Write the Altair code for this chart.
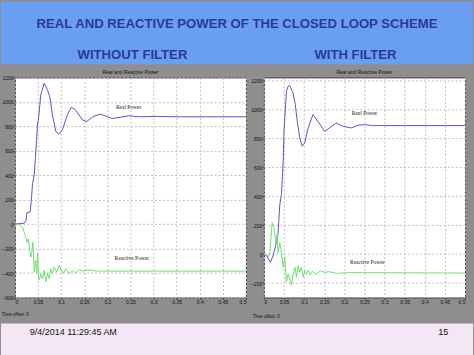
import altair as alt
import pandas as pd

# ---------------- data ----------------
# WITHOUT FILTER
t_real_nf = [0, 0.01, 0.02, 0.024, 0.026, 0.033, 0.036, 0.038, 0.042, 0.0453, 0.049, 0.051, 0.056,
             0.0632, 0.0704, 0.076, 0.081, 0.0884, 0.0956, 0.1028, 0.1135, 0.122, 0.131, 0.146,
             0.155, 0.1695, 0.184, 0.1925, 0.21, 0.228, 0.246, 0.27, 0.307, 0.35, 0.5]
p_real_nf = [0, 5, 8, 30, 95, 100, 220, 330, 410, 598, 828, 860, 1059,
             1153, 1100, 1032, 894, 758, 736, 772, 894, 956, 935, 853,
             839, 880, 899, 890, 864, 874, 886, 878, 881, 878, 878]

t_react_nf = [0, 0.0093, 0.0165, 0.02, 0.0237, 0.026, 0.0287, 0.0316, 0.0345, 0.0366, 0.0388,
              0.04, 0.0417, 0.0445, 0.0474, 0.049, 0.051, 0.053, 0.056, 0.0596, 0.063, 0.0668,
              0.0704, 0.074, 0.0776, 0.081, 0.0848, 0.0905, 0.0955, 0.1006, 0.105, 0.11, 0.117,
              0.124, 0.1315, 0.1386, 0.1458, 0.1566, 0.178, 0.5]
q_react_nf = [0, -5, -26, -67, -107, -148, -121, -202, -270, -229, -148,
              -243, -392, -297, -400, -237, -432, -459, -405, -446, -378, -473,
              -405, -446, -365, -405, -351, -392, -338, -378, -405, -365, -405,
              -378, -400, -373, -384, -373, -384, -384]

# WITH FILTER
t_real_f = [0, 0.0066, 0.016, 0.023, 0.029, 0.035, 0.0396, 0.0437, 0.048, 0.05, 0.056, 0.06,
            0.064, 0.0726, 0.078, 0.083, 0.089, 0.095, 0.1015, 0.11, 0.122, 0.134, 0.151,
            0.163, 0.18, 0.196, 0.217, 0.234, 0.25, 0.27, 0.295, 0.5]
p_real_f = [0, -11, -57, -11, 57, 138, 344, 413, 642, 849, 1124, 1159,
            1166, 1113, 1033, 918, 803, 746, 769, 872, 964, 918, 849,
            872, 906, 884, 872, 890, 895, 888, 888, 888]

t_react_f = [0, 0.0066, 0.0107, 0.0149, 0.0206, 0.0248, 0.03, 0.033, 0.035, 0.0396, 0.0437,
             0.048, 0.052, 0.056, 0.06, 0.064, 0.0686, 0.0727, 0.077, 0.081, 0.085, 0.089,
             0.093, 0.098, 0.1015, 0.106, 0.11, 0.115, 0.12, 0.13, 0.14, 0.151, 0.163, 0.18,
             0.213, 0.5]
q_react_f = [0, -5, -20, 11, 218, 183, 80, 138, 11, 80, 10,
             -91, -22, -195, -137, -172, -217, -137, -91, -160, -80, -126,
             -91, -160, -114, -140, -110, -145, -120, -138, -115, -126, -122, -133,
             -128, -131]

x_ticks = [0, 0.05, 0.1, 0.15, 0.2, 0.25, 0.3, 0.35, 0.4, 0.45, 0.5]
y_ticks_nf = [-600, -400, -200, 0, 200, 400, 600, 800, 1000, 1200]
y_ticks_f = [-200, 0, 200, 400, 600, 800, 1000, 1200]

labels_nf = ["Real Power", "Reactive Power"]
label_t_nf = [0.246, 0.253]
label_v_nf = [956, -275]
labels_f = ["Real Power", "Reactive Power"]
label_t_f = [0.25, 0.257]
label_v_f = [975, -57]

main_title = "REAL AND REACTIVE POWER OF THE CLOSED LOOP SCHEME"
sub_titles = ["WITHOUT FILTER", "WITH FILTER"]
panel_title = "Real and Reactive Power"
footer_date = "9/4/2014 11:29:45 AM"
footer_page = "15"
offset_text = "Time offset:  0"

# ---------------- styling ----------------
BLUE_BG = "#6a9ef0"
TITLE_COL = "#2b3a98"
GRAY = "#8e8e8e"
PINK = "#f4e6f5"
REAL_COL = "#5656c8"
REACT_COL = "#72de72"
SANS = "Liberation Sans"

one = pd.DataFrame({"k": [0]})


def axis_x():
    return alt.Axis(values=x_ticks, format="~g", labelFontSize=5, labelColor="#111",
                    tickSize=1.5, tickColor="#333", grid=True, gridColor="#bdbdbd",
                    gridDash=[2, 2], domain=False, title=None, labelPadding=0.5,
                    labelFont=SANS, labelOverlap=False, labelSeparation=0, minExtent=0)


def axis_y(vals):
    return alt.Axis(values=vals, format="d", labelFontSize=5, labelColor="#111",
                    tickSize=1.5, tickColor="#333", grid=True, gridColor="#bdbdbd",
                    gridDash=[2, 2], domain=False, title=None, labelPadding=0.5,
                    labelFont=SANS, labelOverlap=False, labelSeparation=0, minExtent=0)


def panel(t_r, p_r, t_q, q_q, ydom, yvals, lab, lab_t, lab_v):
    real = pd.DataFrame({"t": t_r, "v": p_r})
    react = pd.DataFrame({"t": t_q, "v": q_q})
    labs = pd.DataFrame({"t": lab_t, "v": lab_v, "label": lab})
    xs = alt.Scale(domain=[0, 0.5], nice=False)
    ys = alt.Scale(domain=ydom, nice=False, zero=False)
    X = alt.X("t:Q", scale=xs, axis=axis_x())
    Y = alt.Y("v:Q", scale=ys, axis=axis_y(yvals))
    l_real = alt.Chart(real).mark_line(color=REAL_COL, strokeWidth=1).encode(x=X, y=Y)
    l_react = alt.Chart(react).mark_line(color=REACT_COL, strokeWidth=1).encode(x=X, y=Y)
    txt = alt.Chart(labs).mark_text(font="Liberation Serif", fontSize=5.5, color="#222",
                                    align="center").encode(x=X, y=Y, text="label:N")
    return l_real, l_react, txt


def label(text, x, y, size, color="#111", weight="normal", align="center"):
    return alt.Chart(one).mark_text(text=text, font=SANS, fontSize=size, fontWeight=weight,
                                    color=color, align=align, baseline="middle").encode(
        x=alt.value(x), y=alt.value(y))


# decorations (positioned relative to the left plot's origin)
banner = alt.Chart(one).mark_rect(color=BLUE_BG).encode(
    x=alt.value(-14), x2=alt.value(460), y=alt.value(-76), y2=alt.value(-13))
footer = alt.Chart(one).mark_rect(color=PINK).encode(
    x=alt.value(-14), x2=alt.value(460), y=alt.value(247), y2=alt.value(279))
t_main = label(main_title, 223, -54, 13.2, TITLE_COL, "bold")
t_sub1 = label(sub_titles[0], 118, -23, 13.2, TITLE_COL, "bold")
t_sub2 = label(sub_titles[1], 342, -23, 13.2, TITLE_COL, "bold")
t_date = label(footer_date, 15, 256, 9, align="left")
t_page = label(footer_page, 430, 256, 9)
t_off1 = label(offset_text, -13, 239, 4.5, align="left")
t_off2 = label(offset_text, 239, 241, 4.5, align="left")
t_ptl1 = label(panel_title, 116, -5, 5)
t_ptl2 = label(panel_title, 101, -5, 5)

W1, W2, H = 232, 202, 221
r1, q1, x1 = panel(t_real_nf, p_real_nf, t_react_nf, q_react_nf, [-600, 1200], y_ticks_nf,
                   labels_nf, label_t_nf, label_v_nf)
r2, q2, x2 = panel(t_real_f, p_real_f, t_react_f, q_react_f, [-300, 1221], y_ticks_f,
                   labels_f, label_t_f, label_v_f)

left = alt.layer(r1, q1, x1, banner, footer, t_main, t_sub1, t_sub2, t_date, t_page,
                 t_off1, t_off2, t_ptl1).properties(width=W1, height=H)
right = alt.layer(r2, q2, x2, t_ptl2).properties(width=W2, height=H)

chart = alt.hconcat(left, right, spacing=18, bounds="flush").properties(
    padding=0, background=GRAY
).configure_view(stroke="#444", strokeWidth=1, fill="white").configure_axis(
    labelOverlap=False
)

chart.save("out.html", embed_options={"renderer": "svg", "actions": False})
